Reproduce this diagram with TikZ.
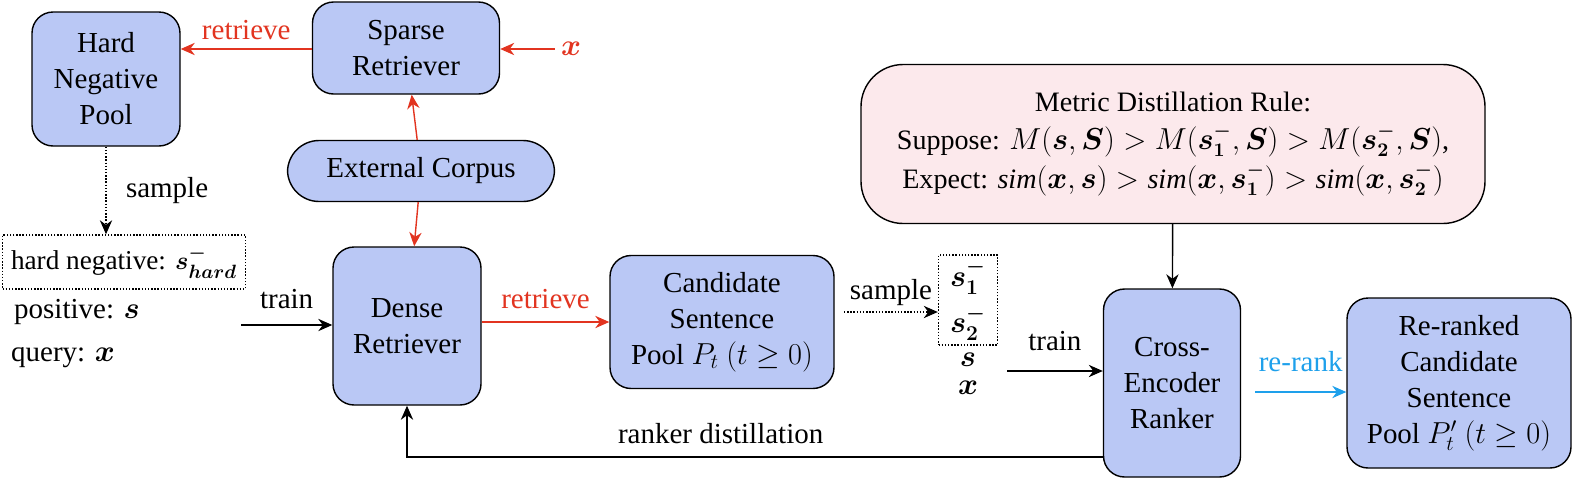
\documentclass[tikz,border=0pt]{standalone}
\usepackage{amsmath,bm}
\usepackage{fontspec}
\setmainfont{Liberation Serif}
\usetikzlibrary{arrows.meta}
\definecolor{boxb}{RGB}{186,200,245}
\definecolor{pinkb}{RGB}{252,233,236}
\definecolor{redc}{RGB}{226,52,32}
\definecolor{bluec}{RGB}{30,160,235}
\begin{document}
\begin{tikzpicture}[x=0.02cm,y=-0.02cm,
  every node/.style={font=\fontsize{16.5}{20.5}\selectfont},
  box/.style={draw,thick,fill=boxb,rounded corners=12pt,align=center,inner sep=0pt},
  arr/.style={-{Stealth[length=8pt,width=7pt]},thick},
  rarr/.style={arr,draw=redc},
  lbl/.style={inner sep=1pt}]
\useasboundingbox (0,0) rectangle (1575,481);
\node[box,minimum width=148*0.02cm,minimum height=134*0.02cm] (hard) at (106,79) {Hard\\Negative\\Pool};
\node[box,minimum width=187*0.02cm,minimum height=92*0.02cm] (sparse) at (406,48) {Sparse\\Retriever};
\node[box,rounded corners=18pt,minimum width=267*0.02cm,minimum height=61*0.02cm] (ext) at (421,171) {External Corpus};
\node[box,minimum width=148*0.02cm,minimum height=158*0.02cm] (dense) at (407,326) {Dense\\Retriever};
\node[box,minimum width=224*0.02cm,minimum height=133*0.02cm] (cand) at (722,322) {Candidate\\Sentence\\Pool $P_t\ (t\geq 0)$};
\node[box,fill=pinkb,rounded corners=24pt,minimum width=624*0.02cm,minimum height=159*0.02cm,font=\fontsize{16}{22}\selectfont] (metric) at (1173,144) {Metric Distillation Rule:\\
Suppose: $M(\bm{s},\bm{S})>M(\bm{s}_{\bm 1}^{\bm -},\bm{S})>M(\bm{s}_{\bm 2}^{\bm -},\bm{S})$,\\
Expect: $\mathit{sim}(\bm{x},\bm{s})>\mathit{sim}(\bm{x},\bm{s}_{\bm 1}^{\bm -})>\mathit{sim}(\bm{x},\bm{s}_{\bm 2}^{\bm -})$};
\node[box,minimum width=137*0.02cm,minimum height=188*0.02cm] (cross) at (1172,383) {Cross-\\Encoder\\Ranker};
\node[box,minimum width=224*0.02cm,minimum height=170*0.02cm] (rer) at (1459,383) {Re-ranked\\Candidate\\Sentence\\Pool $P'_t\ (t\geq 0)$};
% texts
\node[text=redc] (xq) at (571,49) {$\bm{x}$};
\node[draw,densely dotted,thick,minimum width=243*0.02cm,minimum height=54*0.02cm,inner sep=1pt,font=\fontsize{15.5}{19}\selectfont] (hn) at (124,262) {hard negative: $\bm{s}^{\bm -}_{\bm{hard}}$};
\node[anchor=west] (pos) at (8,312) {positive: $\bm{s}$};
\node[anchor=west] (qry) at (5,358) {query: $\bm{x}$};
\node[draw,densely dotted,thick,minimum width=59*0.02cm,minimum height=90*0.02cm,align=center,inner sep=0pt] (ss) at (968,300) {$\bm{s}_{\bm 1}^{\bm -}$\\[6pt]$\bm{s}_{\bm 2}^{\bm -}$};
\node (s) at (968,360) {$\bm{s}$};
\node (x) at (968,388) {$\bm{x}$};
\coordinate (tr0) at (241,325);
\coordinate (tr1) at (1007,371);
\coordinate (c1) at (844,312);
\coordinate (rr) at (1255,392);
% arrows
\draw[rarr] (xq.west) -- (sparse.east|-xq);
\draw[rarr] (sparse.west|-xq) -- node[lbl,above,text=redc,yshift=4pt] {retrieve} (hard.east|-xq);
\draw[rarr] (ext) -- (sparse);
\draw[rarr] (ext) -- (dense);
\draw[arr,densely dotted] (hard) -- node[lbl,right,xshift=10pt] {sample} (hard|-hn.north);
\draw[arr] (tr0) -- node[lbl,above,pos=0.5,yshift=8pt] {train} (dense.west|-tr0);
\draw[rarr] (dense.east|-cand) -- node[lbl,above,text=redc,yshift=6pt] {retrieve} (cand.west);
\draw[arr,densely dotted] (c1) -- node[lbl,above,yshift=2pt] {sample} (ss.west|-c1);
\draw[arr] (tr1) -- node[lbl,above,yshift=10pt] {train} (cross.west|-tr1);
\draw[arr] (metric) -- (cross);
\draw[arr,draw=bluec] (rr) -- node[lbl,above,text=bluec,yshift=10pt] {re-rank} (rer.west|-rr);
\coordinate (c2) at (1104,457);
\draw[arr] (c2) -- node[lbl,above,pos=0.55,yshift=6pt] {ranker distillation} (dense.south|-c2) -- (dense.south);
\end{tikzpicture}
\end{document}
